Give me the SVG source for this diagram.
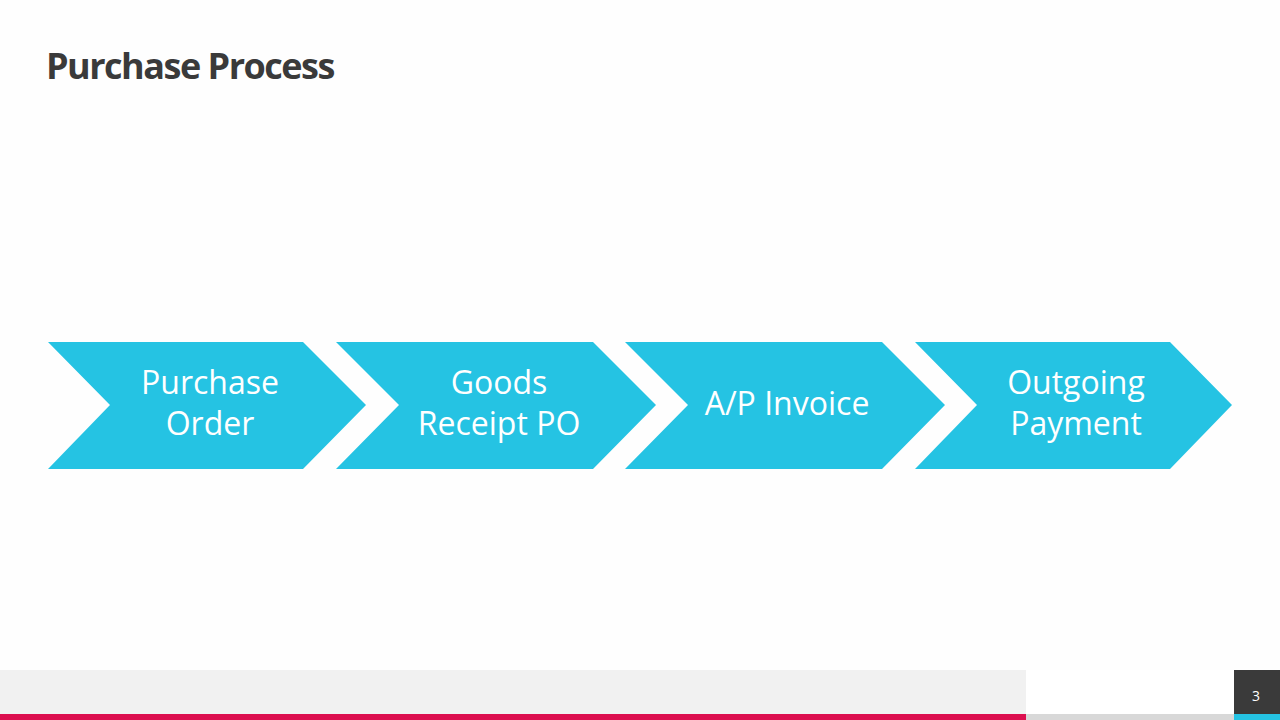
<svg xmlns="http://www.w3.org/2000/svg" width="1280" height="720" viewBox="0 0 1280 720">
<style>
.ch{fill:#25c3e3}
.t{font-family:"Open Sans","Liberation Sans",sans-serif;font-size:32px;fill:#fff;text-anchor:middle}
</style>
<rect width="1280" height="720" fill="#fefefe"/>
<text x="46" y="79" font-family="Open Sans,Liberation Sans,sans-serif" font-size="36" font-weight="bold" letter-spacing="-1.5" fill="#3a3a3a">Purchase Process</text>
<g id="n1"><polygon class="ch" points="48,342 303,342 366,405 303,469 48,469 110,405"/><text class="t" x="210" y="394">Purchase</text><text class="t" x="210" y="435">Order</text></g>
<g id="n2"><polygon class="ch" points="336,342 593,342 656,405 593,469 336,469 399,405"/><text class="t" x="499" y="394">Goods</text><text class="t" x="499" y="435">Receipt PO</text></g>
<g id="n3"><polygon class="ch" points="625,342 882,342 945,405 882,469 625,469 688,405"/><text class="t" x="787" y="415">A/P Invoice</text></g>
<g id="n4"><polygon class="ch" points="915,342 1170,342 1232,405 1170,469 915,469 977,405"/><text class="t" x="1076" y="394">Outgoing</text><text class="t" x="1076" y="435">Payment</text></g>
<g id="connectors"></g>
<rect x="0" y="670" width="1026" height="44" fill="#f1f1f1"/>
<rect x="1026" y="670" width="208" height="44" fill="#fff"/>
<rect x="1234" y="670" width="46" height="50" fill="#3a3a3a"/>
<rect x="0" y="714" width="1026" height="6" fill="#dc0f4f"/>
<rect x="1026" y="714" width="208" height="6" fill="#d8d8d8"/>
<rect x="1234" y="714" width="46" height="6" fill="#25c3e3"/>
<text x="1256" y="701" font-family="Open Sans,Liberation Sans,sans-serif" font-size="14" fill="#fff" text-anchor="middle">3</text>
</svg>
